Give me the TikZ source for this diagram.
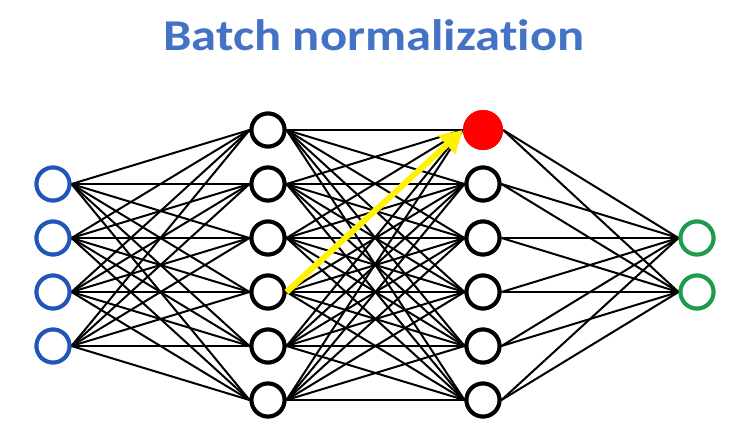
\documentclass[tikz,border=0pt]{standalone}
\usepackage{fontspec}
\setmainfont{Carlito}[Ligatures=NoCommon]
\usetikzlibrary{arrows.meta}
\definecolor{titleblue}{HTML}{4472C4}
\definecolor{inblue}{HTML}{2255B8}
\definecolor{outgreen}{HTML}{1E9C4A}
\begin{document}
\begin{tikzpicture}[x=1pt,y=-1pt,
  neuron/.style={circle,draw=black,line width=4pt,fill=white,minimum size=33pt,inner sep=0pt},
  inneuron/.style={neuron,draw=inblue},
  outneuron/.style={neuron,draw=outgreen},
  active/.style={circle,fill=red,draw=none,minimum size=40pt,inner sep=0pt},
  edge/.style={line width=2pt,black},
  highlight/.style={line width=6pt,yellow,-{Triangle[length=22pt,width=24pt]}}]
\useasboundingbox (0,0) rectangle (752,440);
\node[font=\bfseries\fontsize{44}{50}\selectfont,text=titleblue,xscale=1.15,transform shape] (title) at (374,35) {Batch normalization};
% input layer
\foreach \i/\y in {1/184,2/238,3/292,4/346} \node[inneuron] (a\i) at (53,\y) {};
% hidden 1
\foreach \i/\y in {1/130,2/184,3/238,4/292,5/346,6/400} \node[neuron] (b\i) at (268,\y) {};
% hidden 2
\node[active] (c1) at (483,130) {};
\foreach \i/\y in {2/184,3/238,4/292,5/346,6/400} \node[neuron] (c\i) at (483,\y) {};
% output
\foreach \i/\y in {1/238,2/292} \node[outneuron] (d\i) at (697,\y) {};
% edges
\foreach \i in {1,...,4} \foreach \j in {1,...,6} \draw[edge] (a\i.east) -- (b\j.west);
\foreach \i in {1,...,6} \foreach \j in {1,...,6} \draw[edge] (b\i.east) -- (c\j.west);
\foreach \i in {1,...,6} \foreach \j in {1,2} \draw[edge] (c\i.east) -- (d\j.west);
% redraw nodes on top
\foreach \i/\y in {1/184,2/238,3/292,4/346} \node[inneuron] at (53,\y) {};
\foreach \i/\y in {1/130,2/184,3/238,4/292,5/346,6/400} \node[neuron] at (268,\y) {};
\node[active] at (483,130) {};
\foreach \i/\y in {2/184,3/238,4/292,5/346,6/400} \node[neuron] at (483,\y) {};
\foreach \i/\y in {1/238,2/292} \node[outneuron] at (697,\y) {};
% highlight arrow
\draw[highlight] (b4.east) -- (c1.west);
\end{tikzpicture}
\end{document}
